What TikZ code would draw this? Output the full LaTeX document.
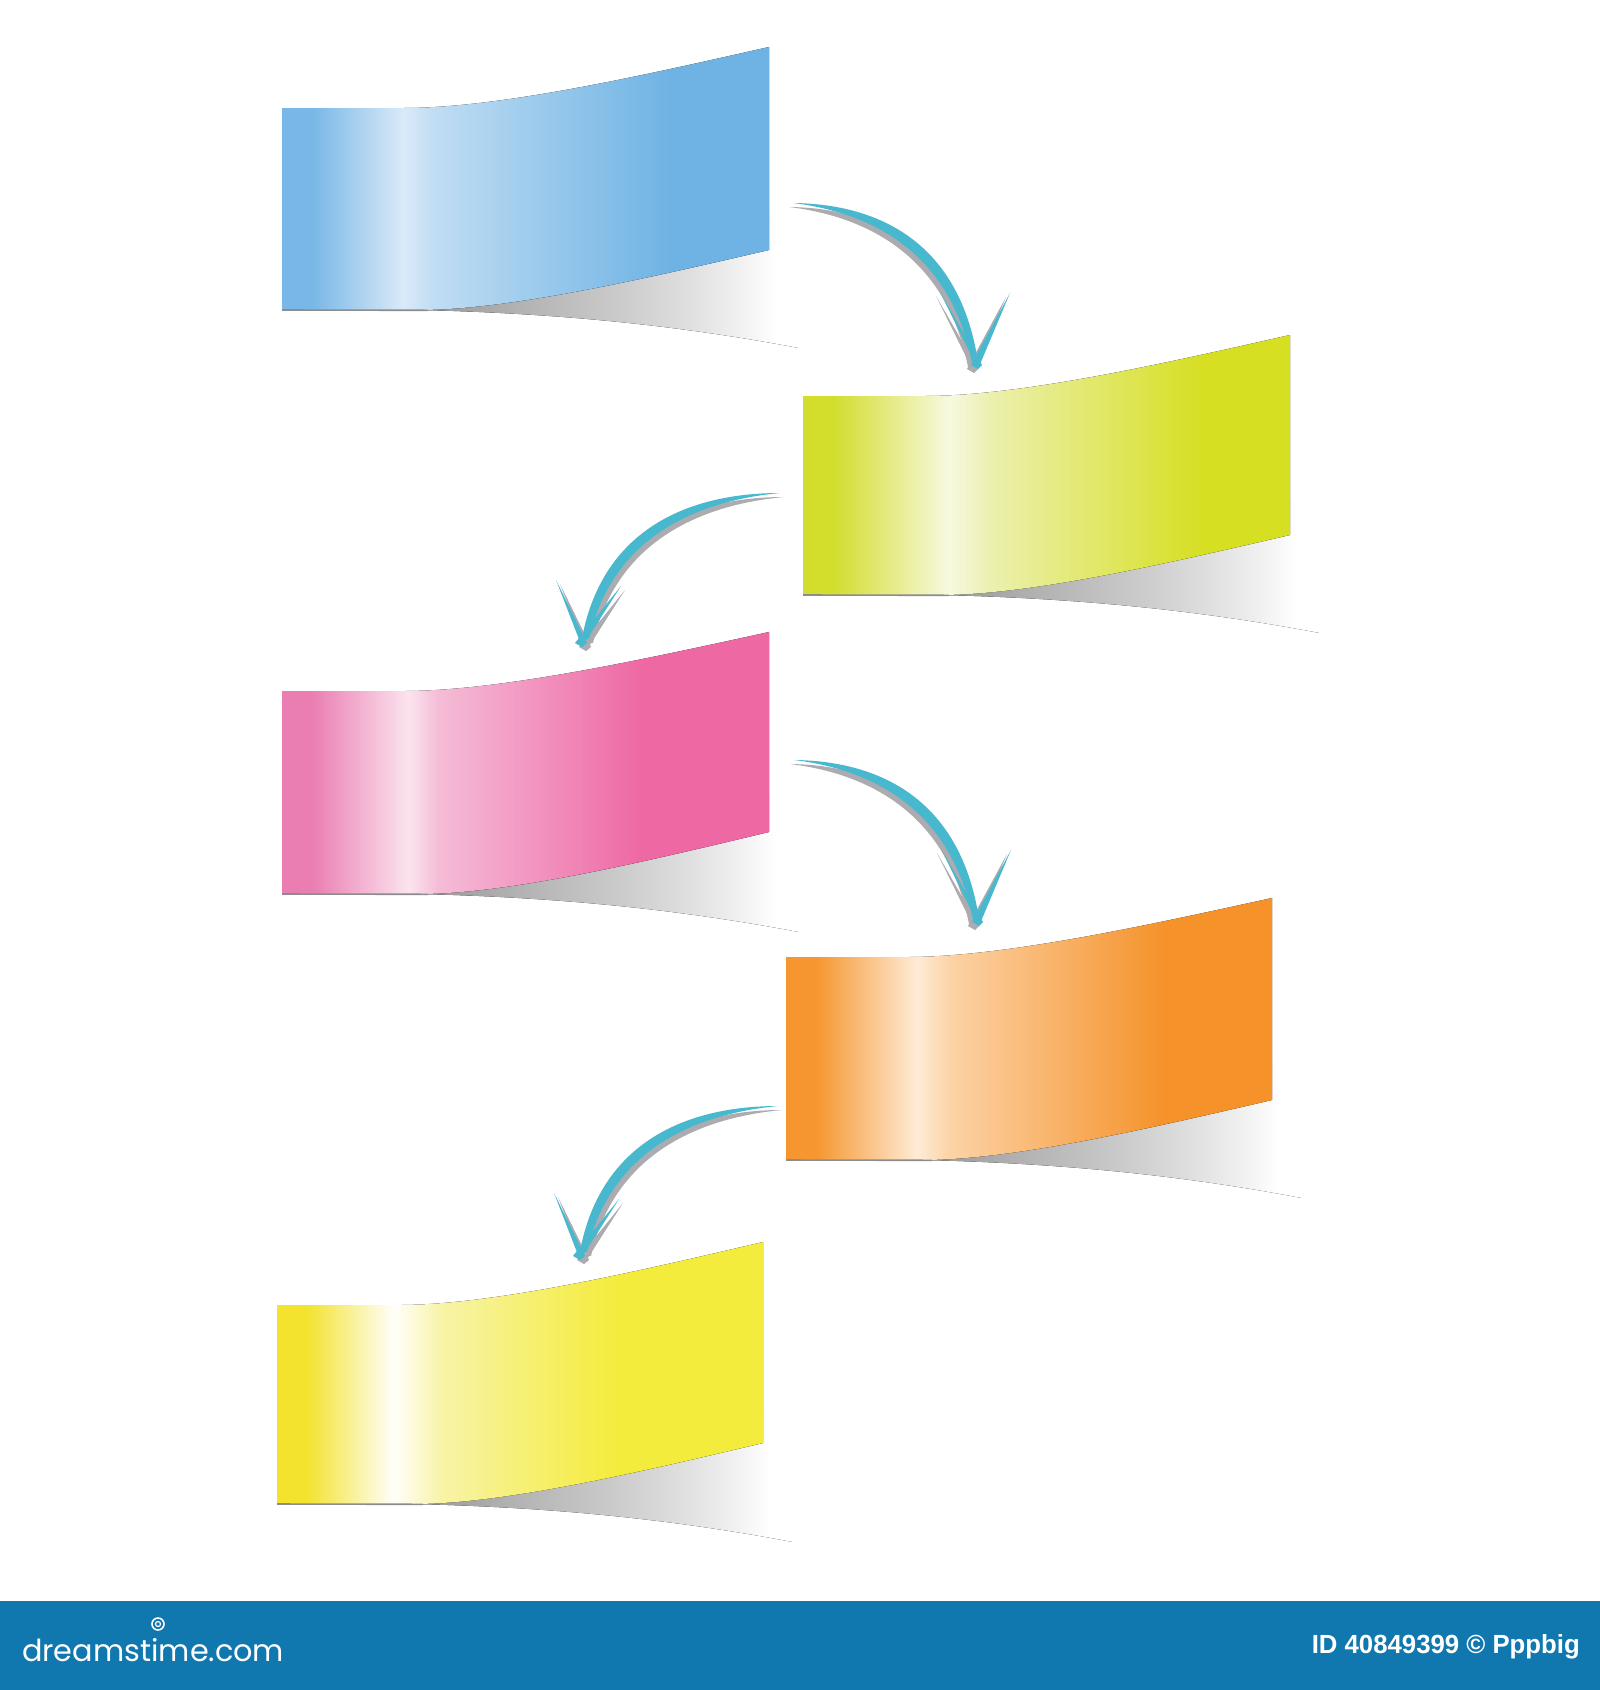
\documentclass[tikz,border=0pt]{standalone}
\usepackage{fontspec}
\setmainfont{Liberation Sans}
\newfontfamily\logofont{Poppins}
\definecolor{bL}{RGB}{120,183,231}
\definecolor{bH}{RGB}{218,234,248}
\definecolor{bM}{RGB}{192,221,243}
\definecolor{bR}{RGB}{110,179,228}
\definecolor{gL}{RGB}{210,221,44}
\definecolor{gH}{RGB}{247,249,224}
\definecolor{gM}{RGB}{236,240,176}
\definecolor{gR}{RGB}{214,223,34}
\definecolor{pL}{RGB}{234,125,178}
\definecolor{pH}{RGB}{251,228,238}
\definecolor{pM}{RGB}{245,188,215}
\definecolor{pR}{RGB}{238,104,164}
\definecolor{oL}{RGB}{245,150,46}
\definecolor{oH}{RGB}{254,235,214}
\definecolor{oM}{RGB}{252,210,165}
\definecolor{oR}{RGB}{245,146,42}
\definecolor{yL}{RGB}{243,226,46}
\definecolor{yH}{RGB}{255,255,250}
\definecolor{yM}{RGB}{248,243,166}
\definecolor{yR}{RGB}{244,236,60}
\definecolor{sh1}{RGB}{150,150,150}
\definecolor{sh2}{RGB}{176,176,176}
\definecolor{sh3}{RGB}{200,200,200}
\definecolor{sh4}{RGB}{222,222,222}
\definecolor{sh5}{RGB}{240,240,240}
\definecolor{arrowcyan}{RGB}{72,184,206}
\definecolor{arrowgray}{RGB}{172,172,176}
\definecolor{barblue}{RGB}{16,119,175}
% #1 name, #2 L, #3 H, #4 M, #5 R, #6 hpos, #7 mpos, #8 rpos
\newcommand{\mkshade}[8]{\pgfdeclarehorizontalshading{#1}{100bp}{color(0bp)=(#2); color(25bp)=(#2); color(28bp)=(#2); color(#6bp)=(#3); color(#7bp)=(#4); color(#8bp)=(#5); color(100bp)=(#5)}}
\mkshade{blueS}{bL}{bH}{bM}{bR}{37.5}{40.5}{65}
\mkshade{greenS}{gL}{gH}{gM}{gR}{40}{44}{66}
\mkshade{pinkS}{pL}{pH}{pM}{pR}{38}{41}{62}
\mkshade{orangeS}{oL}{oH}{oM}{oR}{38.5}{42}{64}
\mkshade{yellowS}{yL}{yH}{yM}{yR}{37}{42}{60}
\pgfdeclarehorizontalshading{shadowS}{100bp}{color(0bp)=(sh1); color(25bp)=(sh1); color(37bp)=(sh2); color(50bp)=(sh3); color(60bp)=(sh4); color(67bp)=(sh5); color(72bp)=(white); color(100bp)=(white)}
% sticky note: #1 shading, #2 L, #3 R, #4 TL, #5 BL, #6 TR, #7 BR
\newcommand{\stickynote}[7]{%
  \pgfmathsetmacro\nW{#3-#2}
  \pgfmathsetmacro\dT{#4-#6}
  \pgfmathsetmacro\dB{#5-#7}
  \fill[shading=shadowS]
    ({#2+0.28*\nW},#5) .. controls ({#2+0.55*\nW},{#5+3}) and ({#2+0.8*\nW},{#5+14}) .. ({#3+30},{#5+38})
    .. controls ({#3+30},{#7+20}) and ({#3+15},{#7-20}) .. (#3,{#7-40}) -- cycle;
  \draw[white, line width=2.5]
    ({#3+30},{#5+38}) .. controls ({#3+30},{#7+20}) and ({#3+15},{#7-20}) .. (#3,{#7-40});
  \fill[shading=#1]
    (#2,#4) -- ({#2+0.25*\nW},#4) .. controls ({#2+0.45*\nW},#4) and ({#2+0.75*\nW},{#4-0.55*\dT}) .. (#3,#6)
    -- (#3,#7)
    .. controls ({#2+0.76*\nW},{#5-0.55*\dB}) and ({#2+0.47*\nW},#5) .. ({#2+0.28*\nW},#5)
    -- (#2,#5) -- cycle;
  \draw[black!45, line width=1.6] (#2,#5) -- ({#2+0.3*\nW},{#5+0.3});
}
\newcommand{\shapeR}[1]{%
  \fill[#1] (0,0) .. controls (88,1) and (167,41) .. (185,159) -- (179,160) .. controls (158,52) and (82,10) .. (0,0) -- cycle;
  \fill[#1] (147,89) -- (185,166) -- (189,162) -- cycle;
  \fill[#1] (217,90) -- (185,166) -- (178,162) -- cycle;}
\newcommand{\shapeL}[1]{%
  \fill[#1] (0,0) .. controls (-90,0) and (-177,35) .. (-198,145) -- (-191,146) .. controls (-168,45) and (-85,8) .. (0,0) -- cycle;
  \fill[#1] (-224,87) -- (-198,154) -- (-193,150) -- cycle;
  \fill[#1] (-159,93) -- (-198,154) -- (-205,150) -- cycle;}
\newcommand{\arrowR}[3]{%
  \begin{scope}[shift={(#1,#2)}]
    \coordinate (#3start) at (0,0);
    \coordinate (#3tip) at (185,166);
    \begin{scope}[shift={(-4,4)}]\shapeR{arrowgray}\end{scope}
    \shapeR{arrowcyan}
  \end{scope}}
\newcommand{\arrowL}[3]{%
  \begin{scope}[shift={(#1,#2)}]
    \coordinate (#3start) at (0,0);
    \coordinate (#3tip) at (-198,154);
    \begin{scope}[shift={(4,4)}]\shapeL{arrowgray}\end{scope}
    \shapeL{arrowcyan}
  \end{scope}}
\begin{document}
\begin{tikzpicture}[x=1bp, y=-1bp]
\useasboundingbox (0,0) rectangle (1600,1690);
\fill[white] (0,0) rectangle (1600,1690);
% notes
\stickynote{blueS}{282}{769}{108}{310}{47}{250}
\stickynote{greenS}{803}{1290}{396}{595}{335}{535}
\stickynote{pinkS}{282}{769}{691}{894}{632}{832}
\stickynote{orangeS}{786}{1272}{957}{1160}{898}{1100}
\stickynote{yellowS}{277}{763}{1305}{1504}{1242}{1443}
% arrows
\arrowR{793}{203}{a1}
\arrowL{780}{493}{a2}
\arrowR{794}{760}{a3}
\arrowL{778}{1106}{a4}
% bottom bar
\fill[barblue] (0,1601) rectangle (1600,1690);
\node[anchor=west, text=white, inner sep=0] (logo) at (22,1650)
  {\resizebox{262bp}{!}{\logofont dreamstime.com}};
\draw[white, line width=1.6] (158,1624) circle (6);
\draw[white, line width=1.2] (158,1624) circle (2.5);
\node[anchor=east, text=white, inner sep=0] (idtext) at (1580,1647)
  {\resizebox{268bp}{19bp}{\bfseries ID 40849399 \textcopyright{} Pppbig}};
\end{tikzpicture}
\end{document}
